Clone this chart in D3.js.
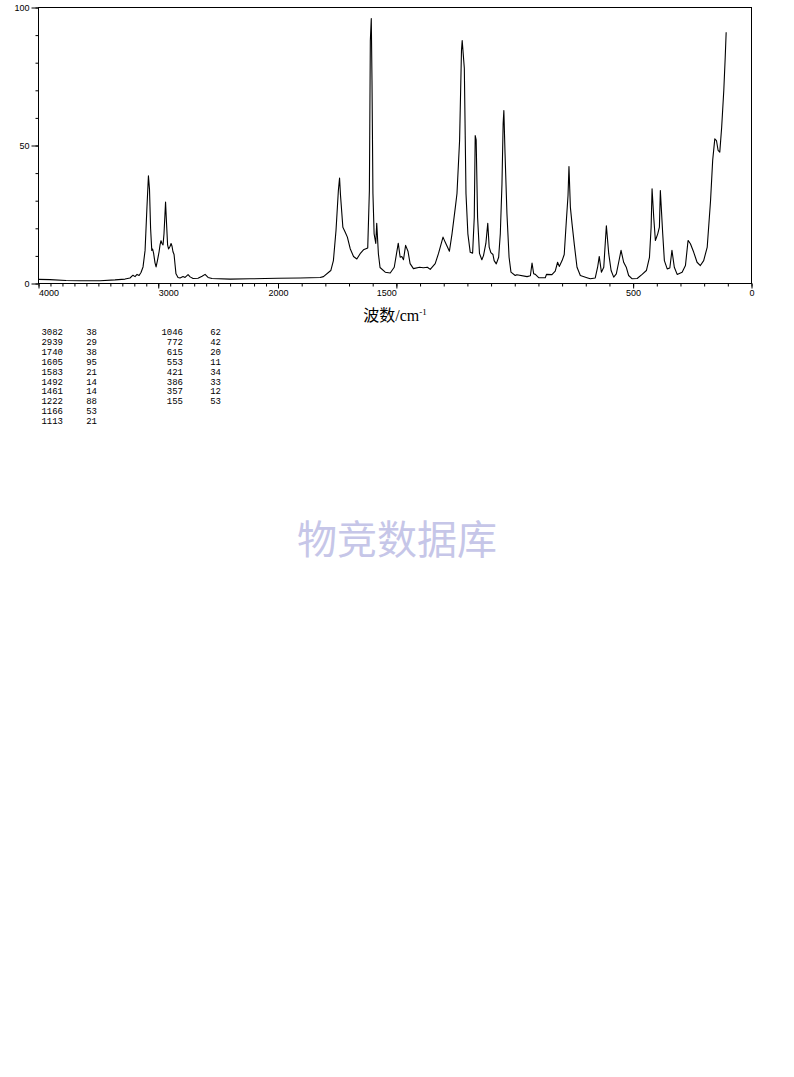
<!DOCTYPE html>
<html>
<head>
<meta charset="utf-8">
<script src="https://cdn.jsdelivr.net/npm/d3@7/dist/d3.min.js"></script>
<style>
  body { margin: 0; background: #fff; }
  svg { display: block; }
</style>
</head>
<body>
<div id="chart"></div>
<script>
// ---- data ----
const wavenumbers = [
  4000,3904,3770,3653,3486,3361,3277,3236,3211,3194,3177,3160,3144,3127,3110,3094,3082,3073,3064,3054,
  3047,3039,3027,3018,3006,2993,2985,2977,2969,2960,2952,2944,2939,2931,2922,2914,2901,2893,2885,2877,
  2868,2860,2852,2835,2818,2793,2776,2751,2734,2709,2668,2634,2609,2584,2551,2400,2233,2108,2000,1907,
  1822,1808,1777,1766,1755,1745,1740,1736,1726,1716,1707,1695,1681,1667,1653,1639,1621,1614,1610,1606,
  1603,1599,1594,1587,1583,1576,1569,1547,1526,1509,1492,1484,1477,1470,1461,1451,1442,1428,1402,1386,
  1369,1357,1336,1322,1303,1294,1276,1265,1251,1244,1233,1225,1222,1213,1206,1198,1188,1178,1171,1167,
  1163,1157,1149,1139,1132,1122,1114,1108,1101,1092,1087,1078,1068,1061,1054,1049,1046,1041,1033,1024,
  1016,998,991,948,934,927,920,913,899,871,866,843,829,819,812,800,791,782,775,771,
  765,758,748,737,723,695,681,660,650,643,634,624,617,613,603,593,582,571,561,551,
  540,529,519,504,483,462,444,431,424,420,413,406,396,389,385,375,368,356,345,336,
  326,314,293,279,268,258,244,230,216,202,187,173,164,155,148,141,134,126,117,111,107
];
const intensities = [
  1.5,1.4,1.1,1.0,1.0,1.3,1.6,2.0,3.0,2.5,3.3,2.9,4.0,6,12,28,39,34,20,12,
  12.5,11,7.5,6,8.5,11.5,14,15.5,14.5,14,18,25,29.5,22,14,12.5,13.5,14.5,13.5,11.5,
  10.5,7,3.5,2.2,2.0,2.5,2.2,3.2,2.4,1.8,1.9,2.6,3.3,2.2,1.8,1.6,1.7,1.8,1.9,2.0,
  2.2,2.5,4.7,8.3,19.2,33.7,38.2,32,20.4,18.6,16.8,12.6,9.8,8.9,10.8,12.2,12.9,33.7,88,96,
  73.6,32.6,18,14.5,21.8,10.8,5.8,4.1,3.8,5.9,14.6,9.5,9.8,8.6,13.8,11.7,7.2,5.4,5.9,5.7,
  5.9,5.1,7.2,10.9,16.8,15,11.7,18,27.6,32.6,51.8,84.4,88,78,32.6,18,11.3,11,24,53.6,
  52,24,10.9,8.6,10.1,14.5,21.8,13.2,11.2,10.5,8.3,7.1,9.5,18,36,58,62.7,47,25.4,9.5,
  4.1,2.9,3.2,2.5,2.8,7.4,3.5,3.3,2.1,2.1,3.3,3.2,4.5,7.7,6.2,8.3,10.5,22.8,31.9,42.4,
  27.6,21.6,13.8,5.9,2.9,2.1,1.7,2.0,5.9,9.8,4.1,5.9,15.6,20.9,10.8,4.7,2.3,3.5,7.7,12,
  7.7,5.9,2.9,1.7,1.8,3.3,4.7,9.5,20.4,34.3,24,15.6,18,20.4,33.7,18,8.3,5.3,5.6,12,
  5.9,3.3,4.1,6.5,15.6,14.4,11.3,7.7,6.5,8.3,13.2,30,44.6,52.4,51.8,48.2,47.6,56.6,70,82,91
];

const xMinorTicks = d3.range(0, 4001, 100);
const xMajorTicks = [4000, 3000, 2000, 1500, 500, 0];
const xTickLabels = ["4000", "3000", "2000", "1500", "500", "0"];
const xTickAnchors = ["start", "start", "middle", "end", "middle", "middle"];
const yMinorTicks = d3.range(0, 101, 10);
const yMajorTicks = [0, 50, 100];
const yTickLabels = ["0", "50", "100"];

const peakWavenumbers1 = ["3082","2939","1740","1605","1583","1492","1461","1222","1166","1113"];
const peakIntensities1 = ["38","29","38","95","21","14","14","88","53","21"];
const peakWavenumbers2 = ["1046","772","615","553","421","386","357","155"];
const peakIntensities2 = ["62","42","20","11","34","33","12","53"];

const xTitle = "波数/cm";
const xTitleSup = "-1";
const watermark = "物竞数据库";

// ---- layout ----
const W = 794, H = 1077;
const svg = d3.select("#chart").append("svg").attr("width", W).attr("height", H)
  .style("background", "#fff");

const mLeft = 38.5, mRight = 751.5, mTop = 7.5, mBottom = 283.5;
const x = d3.scaleLinear().domain([4000, 2000, 0]).range([mLeft, 278, mRight]);
const y = d3.scaleLinear().domain([0, 100]).range([mBottom, mTop]);

const tickFont = "Liberation Sans, DejaVu Sans, sans-serif";

// frame
svg.append("rect").attr("x", mLeft).attr("y", mTop)
  .attr("width", mRight - mLeft).attr("height", mBottom - mTop)
  .attr("fill", "none").attr("stroke", "#000").attr("stroke-width", 1);

// x axis minor
const gxMinor = svg.append("g").attr("transform", `translate(0,${mBottom})`)
  .call(d3.axisBottom(x).tickValues(xMinorTicks).tickSize(3).tickSizeOuter(0).tickFormat(""));
gxMinor.select(".domain").remove();
gxMinor.selectAll("line").attr("stroke", "#000");

// x axis major
const gxMajor = svg.append("g").attr("transform", `translate(0,${mBottom})`)
  .call(d3.axisBottom(x).tickValues(xMajorTicks).tickSize(5).tickSizeOuter(0)
    .tickFormat((d, i) => xTickLabels[i]));
gxMajor.select(".domain").remove();
gxMajor.selectAll("line").attr("stroke", "#000");
gxMajor.selectAll("text")
  .attr("font-family", tickFont).attr("font-size", 9).attr("fill", "#000")
  .attr("y", 6).attr("dy", "0.71em")
  .attr("text-anchor", (d, i) => xTickAnchors[i]);

// y axis minor
const gyMinor = svg.append("g").attr("transform", `translate(${mLeft},0)`)
  .call(d3.axisLeft(y).tickValues(yMinorTicks).tickSize(3).tickSizeOuter(0).tickFormat(""));
gyMinor.select(".domain").remove();
gyMinor.selectAll("line").attr("stroke", "#000");

// y axis major
const gyMajor = svg.append("g").attr("transform", `translate(${mLeft},0)`)
  .call(d3.axisLeft(y).tickValues(yMajorTicks).tickSize(7).tickSizeOuter(0)
    .tickFormat((d, i) => yTickLabels[i]));
gyMajor.select(".domain").remove();
gyMajor.selectAll("line").attr("stroke", "#000");
gyMajor.selectAll("text")
  .attr("font-family", tickFont).attr("font-size", 9).attr("fill", "#000").attr("x", -9);

// spectrum
const pts = wavenumbers.map((w, i) => [w, intensities[i]]);
const line = d3.line().x(d => x(d[0])).y(d => y(d[1]));
svg.append("path").datum(pts).attr("d", line)
  .attr("fill", "none").attr("stroke", "#000").attr("stroke-width", 1.1)
  .attr("stroke-linejoin", "round");

// x title
const t = svg.append("text").attr("x", 395).attr("y", 321).attr("text-anchor", "middle")
  .attr("font-family", "Liberation Serif, 'Noto Sans CJK SC', serif").attr("font-size", 16)
  .attr("fill", "#000");
t.append("tspan").text(xTitle);
t.append("tspan").attr("dy", -6).attr("font-size", 9).text(xTitleSup);

// peak table
const rowStart = 335, rowStep = 9.9;
const tableFont = "Liberation Mono, DejaVu Sans Mono, monospace";
function col(data, xr) {
  svg.append("g").selectAll("text").data(data).join("text")
    .attr("x", xr).attr("y", (d, i) => rowStart + i * rowStep)
    .attr("text-anchor", "end").attr("font-family", tableFont).attr("font-size", 9)
    .attr("fill", "#000").text(d => d);
}
col(peakWavenumbers1, 63);
col(peakIntensities1, 97);
col(peakWavenumbers2, 183);
col(peakIntensities2, 221);

// watermark
svg.append("text").attr("x", 397).attr("y", 554).attr("text-anchor", "middle")
  .attr("font-family", "'Noto Sans CJK SC', sans-serif").attr("font-size", 40)
  .attr("fill", "#c6c6e8").text(watermark);
</script>
</body>
</html>
